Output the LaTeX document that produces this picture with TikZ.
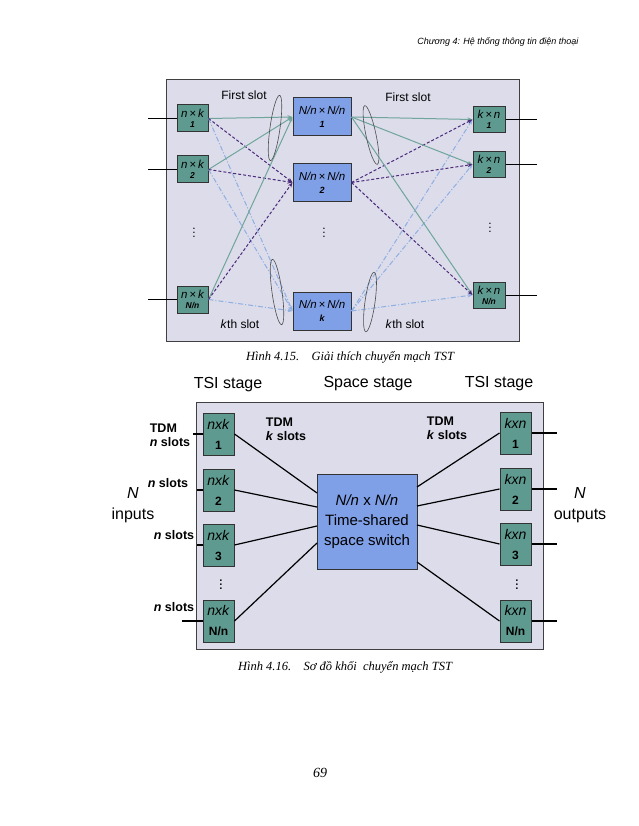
\documentclass[tikz,border=0pt]{standalone}
\usepackage{fontspec}
\setmainfont{Liberation Sans}
\newfontfamily\capfont{Liberation Serif}
\usetikzlibrary{arrows.meta}
\definecolor{bgc}{HTML}{DCDCEB}
\definecolor{tealbox}{HTML}{5E9A90}
\definecolor{bluebox}{HTML}{7F9FE6}
\definecolor{tealln}{HTML}{6FA59A}
\definecolor{purln}{HTML}{4B2A7A}
\definecolor{ltblue}{HTML}{8FAFE0}
\begin{document}
\begin{tikzpicture}[x=1pt,y=-1pt,
  frame/.style={draw=black!75,fill=bgc,line width=0.9pt},
  tbox/.style={draw=black!80,fill=tealbox,line width=1pt,inner sep=0pt},
  bbox/.style={draw=black!80,fill=bluebox,line width=1pt,inner sep=0pt},
  sm/.style={font=\fontsize{11.5}{11}\selectfont\itshape,align=center},
  first/.style={tealln,line width=1pt,-{Stealth[length=5pt]}},
  second/.style={purln,line width=1pt,dash pattern=on 3pt off 2pt,-{Stealth[length=5pt]}},
  kth/.style={ltblue,line width=1pt,dash pattern=on 5pt off 2pt on 1pt off 2pt,-{Stealth[length=5pt]}},
  blk/.style={black,line width=1.2pt},
  lab/.style={font=\fontsize{12}{13}\selectfont},
  blab/.style={font=\fontsize{12.5}{14}\selectfont\bfseries,align=left},
  ell/.style={draw=black!70,line width=0.6pt}]
\useasboundingbox (0,0) rectangle (638,826);
\node[anchor=east,font=\fontsize{9}{10}\selectfont\itshape] (hdr) at (582,42) {Chương 4: Hệ thống thông tin điện thoại};
% ===== Figure 4.15 =====
\node[frame,minimum width=353,minimum height=262,anchor=north west] (f1) at (166,79) {};
\foreach \n/\y/\t in {1/118.5/1,2/169.5/2,N/299.5/{N/n}}{
  \node[tbox,minimum width=31,minimum height=27,sm] (L\n) at (192.5,\y) {n\,\texttimes\,k\\[-1pt]\bfseries\fontsize{8.5}{8}\selectfont\t};
  \coordinate (Li\n) at (148,\y);
  \draw[black,line width=0.6pt] (Li\n) -- (L\n.west);
}
\foreach \n/\y/\t in {1/117/1,2/182.5/2,k/311/k}{
  \node[bbox,minimum width=58,minimum height=38,sm] (M\n) at (322,\y) {N/n\,\texttimes\,N/n\\[2pt]\bfseries\fontsize{9}{8}\selectfont\t};
}
\foreach \n/\y/\t in {1/119.5/1,2/164.5/2,N/295/{N/n}}{
  \node[tbox,minimum width=32,minimum height=26,sm] (R\n) at (489,\y) {k\,\texttimes\,n\\[-1pt]\bfseries\fontsize{8.5}{8}\selectfont\t};
  \coordinate (Ro\n) at (537,\y);
  \draw[black,line width=0.6pt] (R\n.east) -- (Ro\n);
}
\foreach \n in {1,2,N}{
  \draw[kth] (L\n.east) -- (Mk.west);
  \draw[kth] (Mk.east) -- (R\n.west);
  \draw[first] (L\n.east) -- (M1.west);
  \draw[first] (M1.east) -- (R\n.west);
  \draw[second] (L\n.east) -- (M2.west);
  \draw[second] (M2.east) -- (R\n.west);
}
\node[lab] (fs1) at (244,95) {First slot};
\node[lab] (fs2) at (408,97) {First slot};
\node[lab] (ks1) at (240,324) {\textit{k}th slot};
\node[lab] (ks2) at (405,324) {\textit{k}th slot};
\draw[ell,rotate around={-8:(275,128)}] (275,128) ellipse (5 and 33);
\draw[ell,rotate around={12:(371,135)}] (371,135) ellipse (5 and 30);
\draw[ell,rotate around={8:(277,292)}] (277,292) ellipse (5 and 33);
\draw[ell,rotate around={-8:(370,302)}] (370,302) ellipse (5 and 30);
\node[font=\fontsize{12}{12}\selectfont] (d1) at (194,230) {$\vdots$};
\node[font=\fontsize{12}{12}\selectfont] (d2) at (324,230) {$\vdots$};
\node[font=\fontsize{12}{12}\selectfont] (d3) at (490,225) {$\vdots$};
\node[font=\capfont\fontsize{12.5}{12}\selectfont\itshape] (c1) at (350,357) {Hình 4.15.\quad Giải thích chuyển mạch TST};
% ===== Figure 4.16 =====
\node[font=\fontsize{16}{17}\selectfont] (s1) at (228,385) {TSI stage};
\node[font=\fontsize{16}{17}\selectfont] (s2) at (368,384) {Space stage};
\node[font=\fontsize{16}{17}\selectfont] (s3) at (499,384) {TSI stage};
\node[frame,minimum width=347,minimum height=247,anchor=north west] (f2) at (196,402) {};
\node[bbox,minimum width=100,minimum height=95,align=center,font=\fontsize{15}{20}\selectfont] (C) at (367,521.5) {\textit{N/n} x \textit{N/n}\\Time-shared\\space switch};
\foreach \n/\y/\yr/\t/\sx/\ly/\ry in {1/434/433/1/193/493/487,2/490/489/2/197/507/506,3/545/544/3/197/526/525,N/621/621/{N/n}/182/543/562}{
  \node[tbox,minimum width=31,minimum height=42,align=center,font=\fontsize{14}{20}\selectfont] (B\n) at (218.5,\y) {\textit{nxk}\\\bfseries\fontsize{12}{12}\selectfont\t};
  \node[tbox,minimum width=31,minimum height=42,align=center,font=\fontsize{14}{20}\selectfont] (K\n) at (515.5,\yr) {\textit{kxn}\\\bfseries\fontsize{12}{12}\selectfont\t};
  \coordinate (bi\n) at (\sx,\y);
  \coordinate (ko\n) at (557,\yr);
  \coordinate (cl\n) at (317,\ly);
  \coordinate (cr\n) at (417,\ry);
  \draw[blk] (bi\n) -- (B\n.west);
  \draw[blk] (K\n.east) -- (ko\n);
  \draw[blk] (B\n.east) -- (cl\n);
  \draw[blk] (cr\n) -- (K\n.west);
}
\node[blab] (t1) at (170,435) {TDM\\\textit{n} slots};
\node[blab] (t2) at (168,483) {\textit{n} slots};
\node[blab] (t3) at (174,535) {\textit{n} slots};
\node[blab] (t4) at (174,607) {\textit{n} slots};
\node[blab] (t5) at (286,429) {TDM\\\textit{k} slots};
\node[blab] (t6) at (447,428) {TDM\\\textit{k} slots};
\node[align=center,font=\fontsize{16}{21}\selectfont] (ni) at (133,505) {\textit{N}\\inputs};
\node[align=center,font=\fontsize{16}{21}\selectfont] (no) at (580,505) {\textit{N}\\outputs};
\node[font=\fontsize{15}{15}\selectfont] (d4) at (221,582) {$\vdots$};
\node[font=\fontsize{15}{15}\selectfont] (d5) at (517,582) {$\vdots$};
\node[font=\capfont\fontsize{12.5}{12}\selectfont\itshape] (c2) at (345,667) {Hình 4.16.\quad Sơ đồ khối\ \ chuyển mạch TST};
\node[font=\capfont\fontsize{14}{14}\selectfont\itshape] (pg) at (320,773) {69};
\end{tikzpicture}
\end{document}
